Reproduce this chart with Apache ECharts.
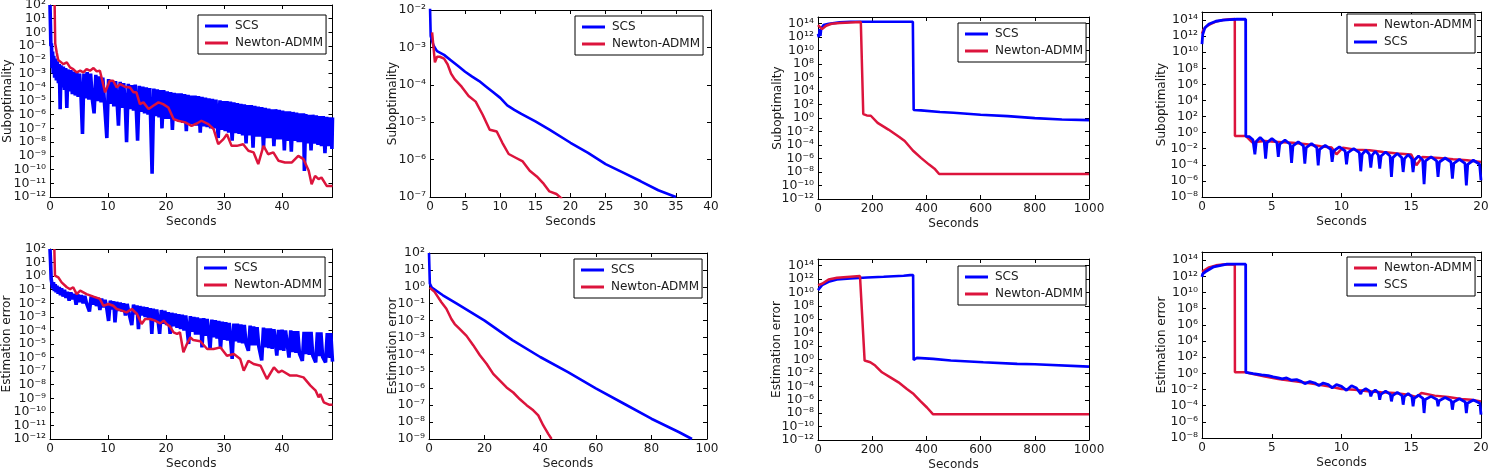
<!DOCTYPE html>
<html><head><meta charset="utf-8">
<script src="https://cdn.jsdelivr.net/npm/echarts@6/dist/echarts.min.js"></script>
<style>html,body{margin:0;padding:0;background:#fff}#c{width:1490px;height:468px}</style>
</head><body><div id="c"></div>
<script>
// All series: [seconds, log10(value)]
const scs1 = [[0,2],[0.08,0.5],[0.15,-1.0],[0.25,-0.8],[0.35,-2.6],[0.45,-1.4],[0.55,-3.0],[0.65,-1.7],[0.8,-3.3],[0.95,-1.9],[1.1,-3.5],[1.25,-2.1],[1.45,-3.7],[1.6,-2.3],[1.75,-5.6],[1.9,-2.4],[2.1,-4.0],[2.3,-2.5],[2.5,-4.2],[2.7,-2.6],[2.9,-5.5],[3.1,-2.7],[3.35,-4.3],[3.6,-2.75],[3.85,-4.5],[4.1,-2.85],[4.35,-4.6],[4.6,-2.9],[4.85,-4.7],[5.1,-3.0],[5.35,-4.7],[5.6,-7.4],[5.85,-3.0],[6.1,-4.8],[6.4,-2.9],[6.7,-4.9],[7.0,-3.0],[7.3,-4.9],[7.6,-5.9],[7.9,-3.1],[8.2,-5.0],[8.5,-3.2],[8.8,-5.1],[9.1,-3.3],[9.4,-5.2],[9.8,-7.7],[10.1,-3.4],[10.4,-5.2],[10.7,-3.5],[11.0,-5.4],[11.3,-3.55],[11.6,-5.3],[11.8,-6.8],[12.1,-3.6],[12.4,-5.5],[12.7,-3.7],[13.0,-5.5],[13.2,-8.0],[13.5,-3.75],[13.8,-5.6],[14.1,-3.85],[14.4,-5.7],[14.7,-3.8],[15.1,-7.9],[15.4,-3.9],[15.7,-5.8],[16.0,-3.95],[16.3,-5.9],[16.6,-4.0],[16.9,-6.0],[17.2,-4.05],[17.6,-10.3],[17.9,-4.1],[18.2,-6.1],[18.5,-4.15],[18.8,-6.2],[19.1,-4.2],[19.3,-7.0],[19.6,-4.2],[19.9,-6.3],[20.2,-4.3],[20.5,-6.3],[20.8,-4.35],[21.1,-7.1],[21.4,-4.4],[21.7,-6.4],[22.0,-4.45],[22.3,-6.5],[22.6,-4.45],[22.9,-6.6],[23.2,-4.5],[23.5,-7.2],[23.8,-4.55],[24.1,-6.7],[24.4,-4.6],[24.7,-6.7],[25.0,-4.6],[25.3,-6.8],[25.6,-4.65],[25.9,-7.3],[26.2,-4.7],[26.5,-6.85],[26.8,-4.75],[27.1,-6.9],[27.4,-4.8],[27.7,-7.0],[28.0,-4.85],[28.3,-7.0],[28.6,-4.9],[29.0,-7.7],[29.3,-4.95],[29.6,-7.1],[29.9,-5.0],[30.2,-7.2],[30.5,-5.0],[30.8,-7.3],[31.1,-5.05],[31.4,-7.9],[31.7,-5.1],[32.0,-7.35],[32.3,-5.15],[32.6,-7.4],[32.9,-5.2],[33.2,-7.5],[33.5,-5.25],[33.8,-8.1],[34.1,-5.3],[34.4,-7.5],[34.7,-5.3],[35.0,-8.4],[35.3,-5.35],[35.6,-7.6],[35.9,-5.4],[36.2,-7.6],[36.5,-5.45],[36.8,-8.5],[37.1,-5.5],[37.4,-7.7],[37.7,-5.55],[38.0,-7.7],[38.3,-5.6],[38.6,-8.3],[38.9,-5.6],[39.2,-7.8],[39.5,-5.65],[39.8,-7.8],[40.1,-5.7],[40.4,-8.6],[40.7,-5.75],[41.0,-7.9],[41.3,-5.75],[41.6,-8.7],[41.9,-5.8],[42.2,-7.9],[42.5,-5.85],[42.8,-8.0],[43.1,-5.9],[43.4,-8.0],[43.7,-5.9],[43.85,-10.1],[44.1,-5.95],[44.4,-8.1],[44.7,-6.0],[45.0,-8.6],[45.3,-6.0],[45.6,-8.1],[45.9,-6.05],[46.2,-8.2],[46.5,-6.1],[46.8,-8.3],[47.1,-6.1],[47.4,-8.8],[47.7,-6.15],[48.0,-8.3],[48.3,-6.2],[48.6,-8.5],[48.7,-6.2]];
const adm1 = [[0.8,2],[0.9,-0.8],[1.15,-1.45],[1.4,-2.0],[1.72,-2.06],[2.3,-2.31],[2.9,-2.18],[3.45,-2.55],[4.0,-2.67],[4.6,-2.91],[5.2,-2.79],[5.75,-2.91],[6.3,-2.67],[6.9,-2.79],[7.5,-2.6],[8.05,-2.84],[8.6,-2.79],[9.5,-4.37],[10.3,-3.52],[10.9,-3.52],[11.5,-4.01],[12.1,-3.77],[12.9,-3.96],[13.8,-4.01],[14.4,-4.37],[14.9,-4.37],[15.5,-5.23],[16.1,-5.1],[17.0,-5.59],[17.8,-5.35],[18.7,-5.1],[19.5,-5.23],[20.4,-5.47],[21.3,-6.32],[22.1,-6.44],[23.3,-6.56],[24.4,-6.81],[25.3,-6.64],[26.1,-6.44],[27.3,-6.69],[28.2,-7.05],[29.0,-8.15],[29.9,-7.78],[30.5,-7.42],[31.3,-8.27],[32.2,-8.27],[33.3,-8.15],[34.2,-8.63],[35.1,-8.75],[35.9,-9.6],[36.8,-8.27],[37.6,-8.88],[38.5,-8.75],[39.4,-9.36],[40.5,-9.48],[41.7,-9.48],[42.8,-9.0],[43.7,-9.24],[44.6,-10.09],[45.1,-11.07],[45.7,-10.46],[46.3,-10.7],[46.8,-10.58],[47.7,-11.19],[48.7,-11.19]];
const scs2 = [[0,-1.9],[0.1,-2.7],[0.5,-2.95],[1.0,-3.1],[2,-3.2],[3,-3.35],[4,-3.5],[5,-3.65],[6,-3.78],[7,-3.9],[8,-4.05],[9,-4.2],[10,-4.35],[11,-4.55],[12,-4.67],[13,-4.78],[15,-4.98],[17,-5.2],[20,-5.55],[22.5,-5.82],[25,-6.12],[27.5,-6.35],[30,-6.58],[32.5,-6.82],[35,-7.0]];
const adm2 = [[0.3,-2.6],[0.45,-2.6],[0.7,-3.4],[1.0,-3.25],[1.4,-3.25],[2.0,-3.3],[2.5,-3.45],[3.0,-3.7],[3.5,-3.85],[4.5,-4.05],[5.5,-4.3],[6.5,-4.45],[7.5,-4.8],[8.5,-5.2],[9.5,-5.25],[10.3,-5.55],[11.2,-5.85],[12.2,-5.95],[13.2,-6.05],[14.2,-6.3],[15.2,-6.45],[16.2,-6.65],[17.0,-6.85],[18.0,-6.92],[18.8,-7.05]];
const scs3 = [[0,12.5],[3,12.0],[6,13.2],[9,12.2],[12,13.3],[20,13.8],[40,14.0],[80,14.2],[120,14.3],[350,14.3],[353,1.2],[380,1.15],[450,0.9],[500,0.8],[600,0.5],[700,0.3],[800,0.0],[900,-0.2],[1000,-0.3]];
const adm3 = [[0,13.8],[5,13.6],[15,13.2],[30,13.7],[50,14.0],[80,14.1],[120,14.2],[158,14.25],[167,0.6],[180,0.4],[195,0.35],[220,-0.7],[260,-1.7],[300,-2.8],[320,-3.4],[350,-4.8],[380,-5.9],[410,-6.9],[430,-7.5],[447,-8.3],[1000,-8.3]];
const scs4 = [[0,11.0],[0.05,12.2],[0.2,13.0],[0.5,13.5],[1.0,13.85],[1.5,14.0],[2.0,14.05],[2.5,14.1],[3.13,14.1],[3.14,-0.45],[3.4,-0.5],[3.65,-0.9],[3.79,-2.69],[3.89,-1.11],[4.17,-0.61],[4.46,-1.11],[4.56,-3.23],[4.66,-1.24],[5.01,-0.74],[5.37,-1.24],[5.47,-3.02],[5.57,-1.44],[5.95,-0.94],[6.32,-1.44],[6.42,-3.77],[6.52,-1.65],[6.9,-1.15],[7.27,-1.65],[7.37,-3.85],[7.47,-1.86],[7.85,-1.36],[8.23,-1.86],[8.33,-4.06],[8.43,-2.07],[8.83,-1.57],[9.23,-2.07],[9.33,-3.64],[9.43,-2.28],[9.85,-1.78],[10.26,-2.28],[10.36,-3.93],[10.46,-2.48],[10.87,-1.98],[11.28,-2.48],[11.38,-4.8],[11.48,-2.69],[11.74,-2.19],[12.0,-2.69],[12.1,-4.35],[12.2,-2.81],[12.42,-2.31],[12.64,-2.81],[12.74,-4.47],[12.84,-2.9],[13.16,-2.4],[13.48,-2.9],[13.58,-5.51],[13.68,-3.1],[14.0,-2.6],[14.32,-3.1],[14.42,-4.89],[14.52,-3.23],[14.78,-2.73],[15.03,-3.23],[15.13,-4.89],[15.23,-3.4],[15.52,-2.9],[15.82,-3.4],[15.92,-6.42],[16.02,-3.52],[16.42,-3.02],[16.82,-3.52],[16.92,-5.51],[17.02,-3.65],[17.43,-3.15],[17.85,-3.65],[17.95,-5.72],[18.05,-3.81],[18.45,-3.31],[18.85,-3.81],[18.95,-6.55],[19.05,-3.93],[19.45,-3.43],[19.9,-3.93],[20,-5.93]];
const adm4 = [[0,12.3],[0.1,12.8],[0.3,13.2],[0.6,13.5],[1.0,13.8],[1.5,14.0],[2.0,14.1],[2.35,14.12],[2.36,-0.41],[3.13,-0.41],[3.6,-1.2],[4.5,-1.03],[5.5,-1.15],[6.5,-1.27],[7.5,-1.44],[8.5,-1.69],[9.3,-1.86],[9.64,-2.69],[10.1,-1.86],[11,-2.11],[12,-2.19],[13,-2.4],[14,-2.6],[15,-2.73],[15.37,-4.06],[15.8,-3.02],[17,-3.15],[18,-3.31],[19,-3.43],[20,-3.64]];
const scs5 = [[0,2],[0.1,1.0],[0.2,-0.2],[0.3,-0.1],[0.45,-0.9],[0.6,-0.45],[0.75,-1.1],[0.9,-0.6],[1.05,-1.2],[1.2,-0.7],[1.4,-1.3],[1.6,-0.8],[1.8,-1.4],[2.0,-0.9],[2.25,-1.5],[2.5,-1.0],[2.75,-1.6],[3.0,-1.15],[3.3,-1.8],[3.6,-1.2],[3.9,-1.7],[4.2,-1.3],[4.5,-2.1],[4.8,-1.35],[5.1,-1.9],[5.4,-1.4],[5.7,-2.0],[6.0,-1.45],[6.3,-2.0],[6.8,-2.6],[7.1,-1.5],[7.4,-2.1],[7.7,-1.55],[8.0,-2.2],[8.3,-1.6],[8.6,-2.5],[8.9,-1.65],[9.2,-2.3],[9.5,-1.75],[9.8,-2.4],[10.1,-3.3],[10.4,-1.8],[10.7,-2.45],[11.0,-1.85],[11.2,-3.4],[11.5,-1.9],[11.8,-2.55],[12.1,-1.95],[12.4,-2.6],[12.7,-2.0],[13.0,-2.9],[13.3,-2.05],[13.6,-2.7],[14.1,-3.6],[14.4,-2.1],[14.7,-2.8],[15.0,-2.15],[15.25,-3.9],[15.5,-2.2],[15.8,-2.9],[16.1,-2.25],[16.4,-3.0],[16.7,-2.3],[17.0,-3.2],[17.3,-2.35],[17.55,-4.25],[17.8,-2.4],[18.1,-3.3],[18.4,-2.45],[18.9,-4.25],[19.2,-2.5],[19.5,-3.5],[19.8,-2.55],[20.1,-3.6],[20.4,-2.65],[20.7,-4.25],[21.0,-2.7],[21.3,-3.7],[21.6,-2.75],[21.9,-3.8],[22.2,-2.8],[22.5,-3.9],[22.8,-2.85],[23.1,-4.0],[23.4,-2.9],[23.9,-5.0],[24.2,-2.95],[24.5,-4.1],[24.8,-3.0],[25.1,-4.3],[25.4,-3.05],[25.7,-4.3],[26.0,-3.1],[26.2,-5.25],[26.5,-3.1],[26.8,-4.4],[27.1,-3.15],[27.6,-5.35],[27.9,-3.2],[28.2,-4.5],[28.5,-3.25],[28.8,-4.6],[29.1,-3.3],[29.4,-5.35],[29.7,-3.35],[30.0,-4.7],[30.3,-3.4],[30.6,-4.75],[30.9,-3.45],[31.4,-6.1],[31.7,-3.5],[32.0,-4.8],[32.3,-3.5],[32.6,-4.9],[32.9,-3.55],[33.2,-4.95],[33.5,-3.6],[33.8,-5.0],[34.2,-5.5],[34.5,-3.65],[34.8,-5.1],[35.1,-3.7],[35.4,-5.1],[35.7,-3.75],[36.0,-5.2],[36.5,-6.2],[36.8,-3.8],[37.1,-5.25],[37.4,-3.85],[37.7,-5.3],[38.0,-3.85],[38.3,-5.35],[38.6,-3.9],[39.1,-5.85],[39.4,-3.95],[39.7,-5.45],[40.0,-3.95],[40.3,-5.5],[40.6,-4.0],[41.2,-6.0],[41.5,-4.0],[41.8,-5.6],[42.1,-4.05],[42.4,-5.65],[42.7,-4.05],[43.0,-5.7],[43.5,-6.25],[43.8,-4.1],[44.1,-5.75],[44.4,-4.1],[44.7,-5.8],[45.0,-4.1],[45.3,-5.85],[45.8,-6.35],[46.1,-4.15],[46.4,-5.9],[46.7,-4.15],[47.0,-5.95],[47.5,-6.35],[47.8,-4.2],[48.1,-6.0],[48.4,-4.2],[48.7,-6.3]];
const adm5 = [[0.75,2],[0.86,0.03],[1.44,-0.09],[2.0,-0.46],[2.9,-0.82],[3.45,-0.95],[4.0,-0.82],[4.6,-1.32],[5.2,-1.07],[5.75,-1.19],[6.3,-1.32],[7.5,-1.51],[8.6,-1.68],[9.2,-2.18],[10.1,-2.05],[10.9,-2.18],[11.5,-2.42],[12.4,-2.54],[13.2,-2.67],[14.1,-2.42],[15.0,-2.79],[15.8,-3.53],[16.4,-3.16],[17.3,-3.16],[18.1,-3.28],[19.0,-3.48],[19.6,-3.28],[20.1,-3.53],[20.7,-3.72],[21.3,-4.14],[21.9,-4.26],[22.4,-4.14],[23.0,-5.61],[23.6,-5.0],[24.2,-4.51],[24.7,-4.71],[25.9,-4.8],[27.1,-5.37],[28.2,-5.37],[29.4,-5.25],[30.5,-5.86],[31.7,-5.74],[32.8,-6.11],[33.4,-6.97],[34.2,-6.23],[35.1,-6.47],[36.3,-6.6],[37.4,-7.58],[38.6,-6.72],[39.4,-7.09],[40.0,-6.97],[41.4,-7.33],[42.6,-7.33],[43.7,-7.46],[44.9,-8.07],[45.8,-8.44],[46.3,-8.93],[46.6,-8.69],[47.2,-9.3],[48.1,-9.47],[48.7,-9.47]];
const scs6 = [[0,2],[0.3,0.2],[1,-0.05],[5,-0.5],[10,-1.0],[20,-2.0],[30,-3.15],[40,-4.15],[50,-5.05],[60,-6.0],[70,-6.9],[80,-7.8],[90,-8.6],[94.6,-9.0]];
const adm6 = [[0.2,-0.05],[2,-0.3],[4.4,-0.9],[6.25,-1.3],[8.05,-1.9],[9.25,-2.2],[11.1,-2.5],[13.5,-2.9],[15.9,-3.45],[18.3,-4.05],[20.7,-4.55],[23.1,-5.15],[25.5,-5.55],[27.9,-5.95],[30.3,-6.25],[32.7,-6.65],[35.1,-7.0],[37.5,-7.3],[39.3,-7.6],[41.1,-8.2],[42.9,-8.7],[44.1,-9.0]];
const scs7 = [[0,10.35],[15,11.1],[39,11.6],[70,11.95],[119,12.1],[181,12.25],[242,12.35],[316,12.5],[340,12.6],[351,12.6],[353,-0.05],[365,0.25],[425,0.1],[490,-0.15],[610,-0.4],[735,-0.65],[800,-0.7],[1000,-1.05]];
const adm7 = [[0,11.1],[15,11.3],[39,11.95],[70,12.2],[119,12.35],[155,12.45],[162,12.45],[172,-0.15],[193,-0.4],[211,-0.9],[236,-1.9],[267,-2.65],[297,-3.4],[328,-4.4],[353,-5.15],[377,-6.15],[402,-7.15],[424,-8.15],[1000,-8.15]];
const scs8 = [[0,11.93],[0.05,12.3],[0.24,12.55],[0.84,13.17],[1.79,13.5],[3.13,13.5],[3.14,0.13],[3.67,-0.04],[4.27,-0.2],[4.75,-0.29],[5.1,-0.45],[5.47,-0.57],[5.75,-0.7],[6.06,-0.57],[6.42,-0.86],[6.78,-0.78],[7.14,-1.03],[7.37,-1.27],[7.73,-1.03],[8.09,-1.2],[8.38,-1.53],[8.69,-1.2],[9.05,-1.4],[9.33,-1.81],[9.64,-1.4],[10.0,-1.61],[10.36,-2.1],[10.72,-1.53],[11.07,-1.81],[11.38,-2.56],[11.46,-2.2],[11.74,-1.9],[12.02,-2.2],[12.1,-2.85],[12.18,-2.45],[12.42,-2.05],[12.66,-2.45],[12.74,-3.26],[12.82,-2.6],[13.16,-2.2],[13.5,-2.6],[13.58,-3.47],[13.66,-2.75],[14.0,-2.35],[14.34,-2.75],[14.42,-3.88],[14.5,-2.9],[14.78,-2.5],[15.05,-2.9],[15.13,-4.08],[15.21,-3.1],[15.52,-2.7],[15.84,-3.1],[15.92,-4.91],[16.0,-3.25],[16.42,-2.85],[16.84,-3.25],[16.92,-4.08],[17.0,-3.4],[17.43,-3.0],[17.87,-3.4],[17.95,-4.5],[18.03,-3.55],[18.45,-3.15],[18.87,-3.55],[18.95,-4.91],[19.03,-3.7],[19.45,-3.3],[19.92,-3.7],[20,-5.12]];
const adm8 = [[0,12.55],[0.5,13.1],[1.0,13.35],[1.5,13.45],[2.35,13.5],[2.36,0.13],[3.13,0.13],[3.67,-0.1],[4.51,-0.4],[5.47,-0.7],[6.66,-0.99],[7.85,-1.27],[9.05,-1.61],[10.0,-1.94],[10.95,-2.02],[11.9,-2.22],[12.86,-2.35],[13.82,-2.43],[14.77,-2.64],[15.37,-2.93],[15.73,-2.43],[16.68,-2.76],[17.64,-2.93],[18.59,-3.18],[19.3,-3.26],[20,-3.47]];

const seriesNames = ['SCS', 'Newton-ADMM'];
const xTitle = 'Seconds';
const yTitles = ['Suboptimality', 'Estimation error'];

const F = 'DejaVu Sans';
const BLUE = '#0000ff', RED = '#dc143c';

const panels = [
  {g:{left:50,top:5,width:282.5,height:192}, xMax:48.7, xInt:10, yMin:-12, yMax:2, yInt:1, yName:yTitles[0], gap:36, lg:{left:198,top:15}, order:[0,1], data:[scs1, adm1], bw:3.6},
  {g:{left:430,top:10,width:281,height:187}, xMax:40, xInt:5, yMin:-7, yMax:-2, yInt:1, yName:yTitles[0], gap:31, lg:{left:575,top:16}, order:[0,1], data:[scs2, adm2], bw:2.6},
  {g:{left:818,top:17,width:271,height:182}, xMax:1000, xInt:200, yMin:-12, yMax:15, yInt:2, yName:yTitles[0], gap:34, lg:{left:958,top:23}, order:[0,1], data:[scs3, adm3], bw:2.6},
  {g:{left:1202,top:12,width:279,height:185}, xMax:20, xInt:5, yMin:-8, yMax:15, yInt:2, yName:yTitles[0], gap:34, lg:{left:1347,top:14}, order:[1,0], data:[scs4, adm4], bw:2.8},
  {g:{left:50,top:249,width:282.5,height:190}, xMax:48.7, xInt:10, yMin:-12, yMax:2, yInt:1, yName:yTitles[1], gap:37, lg:{left:197,top:257}, order:[0,1], data:[scs5, adm5], bw:3.6},
  {g:{left:429,top:253,width:278,height:186}, xMax:100, xInt:20, yMin:-9, yMax:2, yInt:1, yName:yTitles[1], gap:30, lg:{left:574,top:259}, order:[0,1], data:[scs6, adm6], bw:2.6},
  {g:{left:818,top:259,width:271,height:181}, xMax:1000, xInt:200, yMin:-12, yMax:15, yInt:2, yName:yTitles[1], gap:35, lg:{left:958,top:266}, order:[0,1], data:[scs7, adm7], bw:2.6},
  {g:{left:1202,top:252,width:279,height:186}, xMax:20, xInt:5, yMin:-8, yMax:15, yInt:2, yName:yTitles[1], gap:34, lg:{left:1347,top:257}, order:[1,0], data:[scs8, adm8], bw:2.8}
];

const toData = arr => arr.map(p => [p[0], Math.pow(10, p[1])]);
const SUP = {'-':'\u207B','0':'\u2070','1':'\u00B9','2':'\u00B2','3':'\u00B3','4':'\u2074','5':'\u2075','6':'\u2076','7':'\u2077','8':'\u2078','9':'\u2079'};
const logLabel = v => {
  const e = Math.round(Math.log10(v));
  return '10' + String(e).split('').map(c => SUP[c]).join('');
};
const lineAx = {show:true, onZero:false, lineStyle:{color:'#000', width:1}};
const tickAx = {show:true, inside:true, length:4, lineStyle:{color:'#000', width:1}};

const grid=[], xAxis=[], yAxis=[], series=[], legend=[];
panels.forEach((p, i) => {
  grid.push(Object.assign({outerBoundsMode:'none', containLabel:false}, p.g));
  const xFull = Math.abs(p.xMax / p.xInt - Math.round(p.xMax / p.xInt)) < 1e-9;
  const xb = {type:'value', gridIndex:i, min:0, max:p.xMax, interval:p.xInt, position:'bottom',
    name:xTitle, nameLocation:'middle', nameGap:19, nameMoveOverlap:false,
    nameTextStyle:{fontSize:12, fontFamily:F, color:'#1a1a1a'},
    axisLine:lineAx, axisTick:tickAx, splitLine:{show:false},
    axisLabel:{margin:4, fontSize:12, fontFamily:F, color:'#1a1a1a', showMaxLabel:xFull, showMinLabel:true,
      formatter: v => String(v)}};
  const xt = Object.assign({}, xb, {position:'top', name:'', axisLabel:{show:false}});
  xAxis.push(xb, xt);
  const yFull = (p.yMax - p.yMin) % p.yInt === 0;
  const yl = {type:'log', logBase:10, gridIndex:i, min:Math.pow(10,p.yMin), max:Math.pow(10,p.yMax), interval:p.yInt,
    position:'left', name:p.yName, nameLocation:'middle', nameGap:p.gap, nameRotate:90, nameMoveOverlap:false,
    nameTextStyle:{fontSize:12, fontFamily:F, color:'#1a1a1a'},
    axisLine:lineAx, axisTick:tickAx, splitLine:{show:false}, minorTick:{show:false},
    axisLabel:{margin:4, formatter:logLabel, fontSize:12.5, lineHeight:10, fontFamily:F, color:'#1a1a1a',
      showMaxLabel:yFull, showMinLabel:true, hideOverlap:false}};
  const yr = Object.assign({}, yl, {position:'right', name:'', axisLabel:{show:false}});
  yAxis.push(yl, yr);
  p.order.forEach(k => {
    const c = k === 0 ? BLUE : RED;
    series.push({type:'line', name:seriesNames[k], xAxisIndex:2*i, yAxisIndex:2*i, data:toData(p.data[k]),
      showSymbol:false, symbol:'none', color:c, lineStyle:{width:k === 0 ? p.bw : 2.5, color:c}, clip:true,
      emphasis:{disabled:true}, animation:false});
  });
  legend.push({left:p.lg.left, top:p.lg.top, orient:'vertical', data:p.order.map(k => seriesNames[k]),
    icon:'rect', itemWidth:23, itemHeight:3, itemGap:3, padding:[4,3,4,7],
    borderColor:'#000', borderWidth:1, backgroundColor:'#fff', selectedMode:false,
    textStyle:{fontSize:12, fontFamily:F, color:'#1a1a1a', lineHeight:14, padding:[0,0,0,2]}});
});

const chart = echarts.init(document.getElementById('c'), null, {renderer:'canvas'});
chart.setOption({animation:false, backgroundColor:'#fff', textStyle:{fontFamily:F}, grid, xAxis, yAxis, legend, series});
</script></body></html>
